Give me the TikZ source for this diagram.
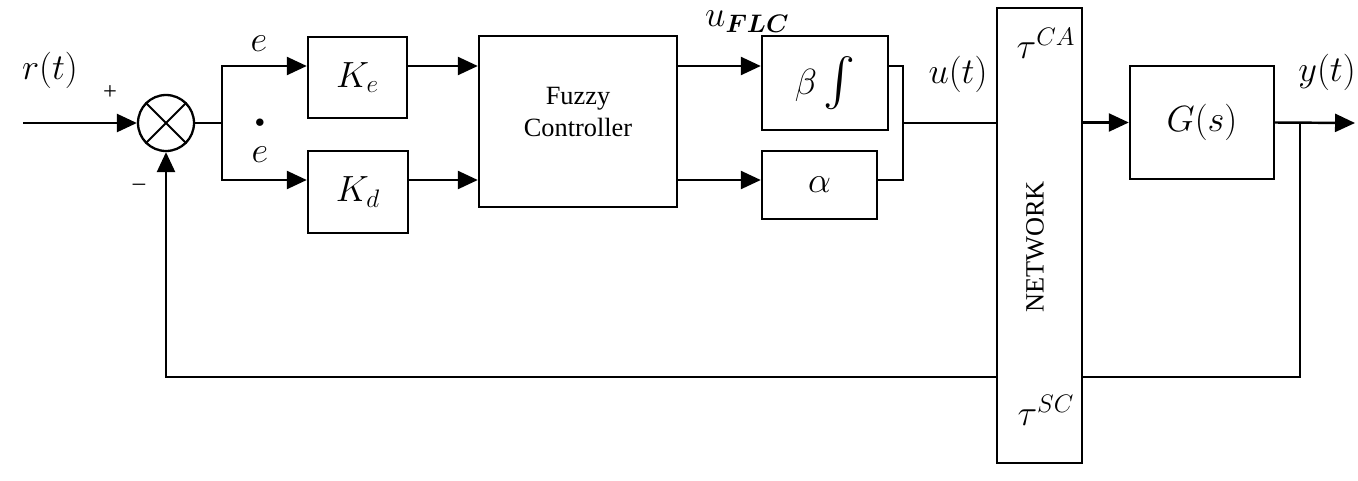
\documentclass[tikz,border=0pt]{standalone}
\usepackage{amsmath,amssymb}
\usepackage{fontspec}
\setmainfont{Liberation Serif}
\usepackage{tikz}
\usetikzlibrary{arrows.meta}

\tikzset{
    block/.style={draw, line width=1.4pt, inner sep=0pt},
    sumnode/.style={draw, circle, line width=1.3pt, minimum size=1.12cm, inner sep=0pt},
    mlabel/.style={font=\fontsize{21}{25}\selectfont},
    tlabel/.style={font=\fontsize{15}{18}\selectfont, align=center},
    sign/.style={font=\fontsize{14}{16}\selectfont}
}

\begin{document}
\begin{tikzpicture}[x=0.02cm, y=-0.02cm, line width=1.4pt,
    >={Triangle[length=4mm,width=3.6mm]}]
    \useasboundingbox (0,0) rectangle (1358,480);

    % Blocks
    \node[sumnode] (sum) at (166,123) {};
    \draw[line width=1.2pt] (sum.north east) -- (sum.south west);
    \draw[line width=1.2pt] (sum.north west) -- (sum.south east);
    \node[block, minimum width=1.98cm, minimum height=1.62cm, mlabel] (Ke) at (357.5,77.5) {$K_e$};
    \node[block, minimum width=2.00cm, minimum height=1.64cm, mlabel] (Kd) at (358,192) {$K_d$};
    \node[block, minimum width=3.96cm, minimum height=3.42cm] (fuzzy) at (578,121.5) {};
    \node[tlabel] (fuzzytxt) at (578,112) {Fuzzy\\Controller};
    \node[block, minimum width=2.52cm, minimum height=1.88cm, mlabel] (beta) at (825,83) {$\beta\,\scalebox{1.3}{$\int$}$};
    \node[block, minimum width=2.30cm, minimum height=1.36cm, mlabel] (alpha) at (819.5,185) {$\alpha$};
    \node[block, minimum width=1.70cm, minimum height=9.10cm] (net) at (1039.5,235.5) {};
    \node[block, minimum width=2.88cm, minimum height=2.26cm, mlabel] (G) at (1202,122.5) {$G(s)$};

    % Points
    \coordinate (in) at (23,123);
    \coordinate (split) at (222,123);
    \coordinate (ptop) at (222,66);
    \coordinate (pbot) at (222,180);
    \coordinate (join) at (903,123);
    \coordinate (tap) at (1300,123);
    \coordinate (out) at (1355,123);
    \coordinate (fbr) at (1300,377);

    % Forward path
    \draw[->] (in) -- (sum.west);
    \draw (sum.east) -- (split);
    \draw[->] (split) -- (ptop) -- (Ke.west |- ptop);
    \draw[->] (split) -- (pbot) -- (Kd.west |- pbot);
    \draw[->] (Ke.east |- ptop) -- (fuzzy.west |- ptop);
    \draw[->] (Kd.east |- pbot) -- (fuzzy.west |- pbot);
    \draw[->] (fuzzy.east |- ptop) -- (beta.west |- ptop);
    \draw[->] (fuzzy.east |- pbot) -- (alpha.west |- pbot);
    \draw (beta.east |- ptop) -| (join) |- (alpha.east |- pbot);
    \draw (join) -- (net.west |- join);
    \draw[->] (net.east |- G) -- (G.west);
    \draw[->] (G.east) -- (out);

    % Feedback
    \draw (tap) -- (fbr) -- (net.east |- fbr);
    \draw[->] (net.west |- fbr) -| (sum.south);

    % Labels
    \node[mlabel] (rlbl) at (50,70) {$r(t)$};
    \node[sign] (plus) at (110,93) {+};
    \node[sign] (minus) at (139,187) {\textendash};
    \node[mlabel] (elbl) at (259,44) {$e$};
    \node[font=\fontsize{21}{20}\selectfont, align=center, inner sep=0pt] (edlbl) at (260,140.5) {$\scriptscriptstyle\bullet$\\$e$};
    \node[mlabel, anchor=base west, inner sep=0pt] (ulbl) at (704,27) {$u_{\boldsymbol{FLC}}$};
    \node[mlabel] (utlbl) at (958,74) {$u(t)$};
    \node[mlabel] (ylbl) at (1327,72) {$y(t)$};
    \node[mlabel] (tca) at (1046,43) {$\tau^{CA}$};
    \node[mlabel] (tsc) at (1046,410) {$\tau^{SC}$};
    \node[tlabel, rotate=90] (netlbl) at (1035,247) {NETWORK};
\end{tikzpicture}
\end{document}
